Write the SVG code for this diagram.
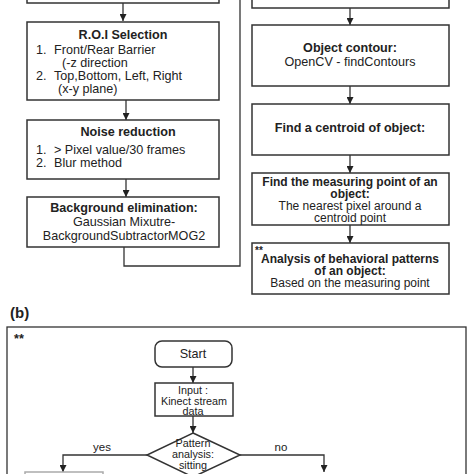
<svg xmlns="http://www.w3.org/2000/svg" width="474" height="474" viewBox="0 0 474 474">
<defs>
<marker id="ah" viewBox="0 0 10 10" refX="10" refY="5" markerWidth="7" markerHeight="7" markerUnits="userSpaceOnUse" orient="auto">
<path d="M0,0 L10,5 L0,10 z" fill="#222"/>
</marker>
<style>
.box{fill:#fff;stroke:#333;stroke-width:1.5}
.ln{fill:none;stroke:#333;stroke-width:1.3}
.t{font-family:"Liberation Sans",Arial,sans-serif;font-size:12.6px;fill:#222}
.u{font-family:"Liberation Sans",Arial,sans-serif;font-size:12px;fill:#222;text-anchor:middle}
.b{font-weight:bold}
.c{text-anchor:middle}
.s{font-family:"Liberation Sans",Arial,sans-serif;font-size:10.8px;fill:#222;text-anchor:middle}
</style>
</defs>
<rect width="474" height="474" fill="#fff"/>

<g id="connectors">
<line class="ln" x1="123" y1="3" x2="123" y2="21" marker-end="url(#ah)"/>
<line class="ln" x1="126" y1="100" x2="126" y2="120" marker-end="url(#ah)"/>
<line class="ln" x1="126" y1="179" x2="126" y2="197" marker-end="url(#ah)"/>
<polyline class="ln" points="124,247 124,266 240,266 240,0"/>
<line class="ln" x1="350" y1="8" x2="350" y2="25" marker-end="url(#ah)"/>
<line class="ln" x1="350" y1="86" x2="350" y2="104" marker-end="url(#ah)"/>
<line class="ln" x1="350" y1="155" x2="350" y2="173" marker-end="url(#ah)"/>
<line class="ln" x1="350" y1="225" x2="350" y2="243" marker-end="url(#ah)"/>
<line class="ln" x1="193" y1="367" x2="193" y2="383" marker-end="url(#ah)"/>
<line class="ln" x1="193" y1="416" x2="193" y2="433" marker-end="url(#ah)"/>
<polyline class="ln" points="148,455 63,455 63,472" marker-end="url(#ah)"/>
<polyline class="ln" points="240,455 324,455 324,472" marker-end="url(#ah)"/>
<text class="s" x="102" y="451" style="font-size:11.5px">yes</text>
<text class="s" x="281" y="451" style="font-size:11.5px">no</text>
</g>

<g id="top-left">
<rect class="box" x="27" y="-20" width="192" height="23"/>
</g>
<g id="roi">
<rect class="box" x="27" y="22" width="192" height="78"/>
<text class="t b c" x="123" y="39">R.O.I Selection</text>
<text class="t" x="36" y="54">1.</text><text class="t" x="54" y="54">Front/Rear Barrier</text>
<text class="t" x="62" y="67">(-z direction</text>
<text class="t" x="36" y="80">2.</text><text class="t" x="54" y="80">Top,Bottom, Left, Right</text>
<text class="t" x="58" y="93">(x-y plane)</text>
</g>
<g id="noise">
<rect class="box" x="27" y="120" width="192" height="59"/>
<text class="t b c" x="128" y="136">Noise reduction</text>
<text class="t" x="36" y="154">1.</text><text class="t" x="54" y="154">&gt; Pixel value/30 frames</text>
<text class="t" x="36" y="167">2.</text><text class="t" x="54" y="167">Blur method</text>
</g>
<g id="background">
<rect class="box" x="27" y="197" width="192" height="50"/>
<text class="t b c" x="124" y="212">Background elimination:</text>
<text class="t c" x="124" y="226">Gaussian Mixutre-</text>
<text class="t c" x="124" y="240">BackgroundSubtractorMOG2</text>
</g>

<g id="top-right">
<rect class="box" x="252" y="-20" width="197" height="28"/>
</g>
<g id="contour">
<rect class="box" x="252" y="25" width="197" height="61"/>
<text class="t b c" x="350" y="52">Object contour:</text>
<text class="t c" x="350" y="66">OpenCV - findContours</text>
</g>
<g id="centroid">
<rect class="box" x="252" y="104" width="197" height="51"/>
<text class="t b c" x="350" y="132">Find a centroid of object:</text>
</g>
<g id="measuring">
<rect class="box" x="252" y="173" width="197" height="52"/>
<text class="u b" x="350" y="186">Find the measuring point of an</text>
<text class="u b" x="350" y="198">object:</text>
<text class="u" x="350" y="210">The nearest pixel around a</text>
<text class="u" x="350" y="222">centroid point</text>
</g>
<g id="analysis">
<rect class="box" x="252" y="243" width="197" height="51"/>
<text class="t b" x="255" y="254" style="font-size:10px">**</text>
<text class="u b" x="350" y="263">Analysis of behavioral patterns</text>
<text class="u b" x="350" y="275">of an object:</text>
<text class="u" x="350" y="287">Based on the measuring point</text>
</g>

<text class="t b" x="10" y="318" style="font-size:15px">(b)</text>
<g id="panel-b">
<rect x="7" y="327" width="459" height="160" fill="none" stroke="#333" stroke-width="1.3"/>
<text class="t b" x="14" y="343">**</text>
</g>
<g id="start">
<rect class="box" x="155" y="341" width="77" height="26" rx="7"/>
<text class="t c" x="193" y="358">Start</text>
</g>
<g id="input">
<rect class="box" x="155" y="383" width="78" height="33"/>
<text class="s" x="193" y="394">Input :</text>
<text class="s" x="194" y="404.5">Kinect stream</text>
<text class="s" x="193" y="415">data</text>
</g>
<g id="decision">
<polygon class="box" points="193,433 240,455 193,477 147,455"/>
<text class="s" x="193" y="447">Pattern</text>
<text class="s" x="193" y="458">analysis:</text>
<text class="s" x="193" y="469">sitting</text>
</g>
<g id="grey-box">
<rect x="25" y="472" width="78" height="20" fill="#fff" stroke="#aaa" stroke-width="1.5"/>
</g>
</svg>
